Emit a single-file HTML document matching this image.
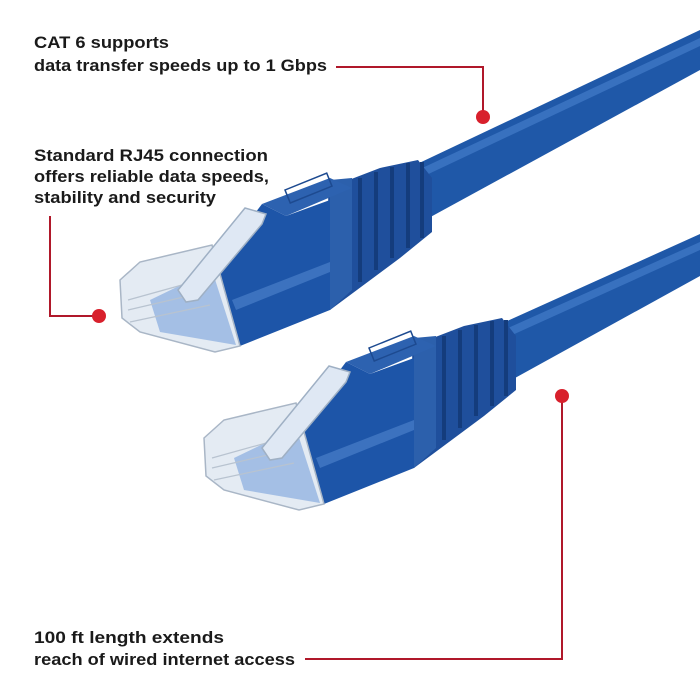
<!DOCTYPE html>
<html><head><meta charset="utf-8"><style>
html,body{margin:0;padding:0;background:#fff}
svg{display:block}
text{font-family:"Liberation Sans",sans-serif;font-weight:bold;font-size:17px;fill:#1a1a1a}
</style></head><body>
<svg width="700" height="700" viewBox="0 0 700 700" xmlns="http://www.w3.org/2000/svg">
<defs>
<g id="conn">
  <!-- boot -->
  <polygon points="328,188 380,168 418,160 432,178 432,232 400,258 330,310" fill="#1f4f9c"/>
  <g stroke="#143c7c" stroke-width="4">
    <line x1="360" y1="178" x2="360" y2="282"/>
    <line x1="376" y1="172" x2="376" y2="270"/>
    <line x1="392" y1="167" x2="392" y2="258"/>
    <line x1="408" y1="163" x2="408" y2="248"/>
    <line x1="422" y1="162" x2="422" y2="238"/>
  </g>
  <!-- body right face -->
  <polygon points="330,180 352,178 352,290 330,310" fill="#2c60ac"/>
  <!-- body top -->
  <polygon points="262,204 330,178 352,188 286,216" fill="#2d62b0"/>
  <rect x="285" y="190" width="45" height="14" transform="rotate(-22 285 190)" fill="none" stroke="#1d4a90" stroke-width="1.5"/>
  <!-- body front -->
  <polygon points="212,270 262,204 286,216 330,200 330,310 240,346" fill="#1d55a8"/>
  <polygon points="232,300 330,262 330,272 236,310" fill="#5b8fd6" opacity="0.5"/>
  <!-- clear plug -->
  <polygon points="120,280 140,262 212,245 240,346 215,352 140,332 122,318" fill="#e4ebf3" stroke="#a9b6c6" stroke-width="1.5"/>
  <polygon points="150,300 212,270 236,345 160,332" fill="#6f9ad8" opacity="0.55"/>
  <g stroke="#b8c3d0" stroke-width="1.2">
    <line x1="128" y1="300" x2="200" y2="280"/><line x1="128" y1="310" x2="205" y2="292"/>
    <line x1="130" y1="322" x2="210" y2="305"/>
  </g>
  <!-- latch -->
  <polygon points="178,290 245,208 266,214 262,224 198,300 186,302" fill="#dfe8f4" stroke="#9fb0c4" stroke-width="1.5"/>
</g>
</defs>

<!-- top cable -->
<polygon points="415,165 700,30 700,70 425,220" fill="#1f58a8"/>
<polygon points="418,170 700,38 700,46 420,178" fill="#4a82cf" opacity="0.6"/>
<use href="#conn"/>
<!-- bottom cable -->
<polygon points="505,322 700,234 700,276 515,378" fill="#1f58a8"/>
<polygon points="508,328 700,242 700,250 510,336" fill="#4a82cf" opacity="0.6"/>
<use href="#conn" transform="translate(84,158)"/>

<!-- callouts -->
<g stroke="#b0182a" stroke-width="2" fill="none">
  <polyline points="336,67 483,67 483,117"/>
  <polyline points="50,216 50,316 99,316"/>
  <polyline points="305,659 562,659 562,396"/>
</g>
<g fill="#d8202c">
  <circle cx="483" cy="117" r="7"/>
  <circle cx="99" cy="316" r="7"/>
  <circle cx="562" cy="396" r="7"/>
</g>

<text x="34" y="48" textLength="135" lengthAdjust="spacingAndGlyphs">CAT 6 supports</text>
<text x="34" y="71" textLength="293" lengthAdjust="spacingAndGlyphs">data transfer speeds up to 1 Gbps</text>
<text x="34" y="161" textLength="234" lengthAdjust="spacingAndGlyphs">Standard RJ45 connection</text>
<text x="34" y="182" textLength="235" lengthAdjust="spacingAndGlyphs">offers reliable data speeds,</text>
<text x="34" y="203" textLength="182" lengthAdjust="spacingAndGlyphs">stability and security</text>
<text x="34" y="643" textLength="190" lengthAdjust="spacingAndGlyphs">100 ft length extends</text>
<text x="34" y="665" textLength="261" lengthAdjust="spacingAndGlyphs">reach of wired internet access</text>
</svg>
</body></html>
